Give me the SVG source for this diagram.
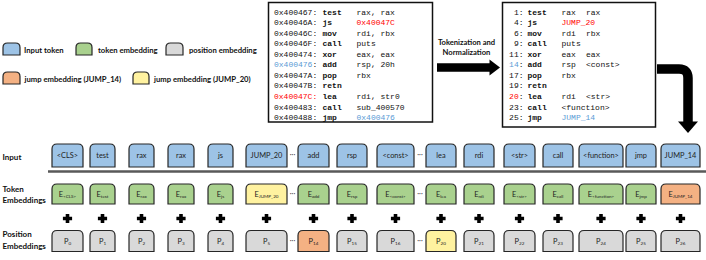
<svg xmlns="http://www.w3.org/2000/svg" xmlns:xlink="http://www.w3.org/1999/xlink" width="706" height="260" viewBox="0 0 706 260">
<style>
.bx{stroke:#262626;stroke-width:1.2}
.in{fill:#9DC3E6}.te{fill:#A9D18E}.pe{fill:#D9D9D9}.j14{fill:#F4B183}.j20{fill:#FFF2A0}
.lb{font-family:Lato,"Liberation Sans",sans-serif;font-size:7.4px;fill:#222;text-anchor:middle}
.sub{font-size:4.6px}
.rl{font-family:Lato,"Liberation Sans",sans-serif;font-size:8px;font-weight:bold;fill:#111}
.lg{font-family:Lato,"Liberation Sans",sans-serif;font-size:7.7px;font-weight:bold;fill:#111}
.tk{font-family:Lato,"Liberation Sans",sans-serif;font-size:7.6px;font-weight:bold;fill:#111;text-anchor:middle}
.code{font-family:"Liberation Mono","DejaVu Sans Mono",monospace;font-size:8px;fill:#111}
.mn{font-weight:bold}
.red{fill:#FF0000}.blu{fill:#5B9BD5}
.dots{font-family:Lato,"Liberation Sans",sans-serif;font-size:7px;fill:#444;text-anchor:middle}
</style>
<defs>
<path id="plus" d="M-1.8,-4.6H1.8V-1.8H4.6V1.8H1.8V4.6H-1.8V1.8H-4.6V-1.8H-1.8Z" fill="#000"/>
</defs>
<rect width="706" height="260" fill="#fff"/>

<!-- legend -->
<g id="legend">
<path class="bx in" d="M3,55V47.5Q3,43 7.5,43H15.5Q20,43 20,47.5V55Z"/>
<text class="lg" x="24" y="52.5">Input token</text>
<path class="bx te" d="M76,55V47.5Q76,43 80.5,43H87.5Q92,43 92,47.5V55Z"/>
<text class="lg" x="98" y="52.5">token embedding</text>
<path class="bx pe" d="M166,55V47.5Q166,43 170.5,43H178.5Q183,43 183,47.5V55Z"/>
<text class="lg" x="189" y="52.5">position embedding</text>
<path class="bx j14" d="M3,84V76.5Q3,72 7.5,72H15.5Q20,72 20,76.5V84Z"/>
<text class="lg" x="24.5" y="81.5">jump embedding (JUMP_14)</text>
<path class="bx j20" d="M133,84V76.5Q133,72 137.5,72H144.5Q149,72 149,76.5V84Z"/>
<text class="lg" x="154" y="81.5">jump embedding (JUMP_20)</text>
</g>

<!-- assembly box -->
<g id="asm">
<rect x="268.5" y="2.5" width="164" height="119.5" fill="#fff" stroke="#111" stroke-width="1.5"/>
<text class="code" y="14.5"><tspan x="274">0x400467:</tspan><tspan class="mn" x="322.5">test</tspan><tspan x="356.5">rax, rax</tspan></text>
<text class="code" y="25.1"><tspan x="274">0x40046A:</tspan><tspan class="mn" x="322.5">js</tspan><tspan class="red" x="356.5">0x40047C</tspan></text>
<text class="code" y="35.6"><tspan x="274">0x40046C:</tspan><tspan class="mn" x="322.5">mov</tspan><tspan x="356.5">rdi, rbx</tspan></text>
<text class="code" y="46.2"><tspan x="274">0x40046F:</tspan><tspan class="mn" x="322.5">call</tspan><tspan x="356.5">puts</tspan></text>
<text class="code" y="56.7"><tspan x="274">0x400474:</tspan><tspan class="mn" x="322.5">xor</tspan><tspan x="356.5">eax, eax</tspan></text>
<text class="code" y="67.3"><tspan class="blu" x="274">0x400476</tspan><tspan>:</tspan><tspan class="mn" x="322.5">add</tspan><tspan x="356.5">rsp, 20h</tspan></text>
<text class="code" y="77.9"><tspan x="274">0x40047A:</tspan><tspan class="mn" x="322.5">pop</tspan><tspan x="356.5">rbx</tspan></text>
<text class="code" y="88.4"><tspan x="274">0x40047B:</tspan><tspan class="mn" x="322.5">retn</tspan></text>
<text class="code" y="99"><tspan class="red" x="274">0x40047C:</tspan><tspan class="mn" x="322.5">lea</tspan><tspan x="356.5">rdi, str0</tspan></text>
<text class="code" y="109.5"><tspan x="274">0x400483:</tspan><tspan class="mn" x="322.5">call</tspan><tspan x="356.5">sub_400570</tspan></text>
<text class="code" y="120.1"><tspan x="274">0x400488:</tspan><tspan class="mn" x="322.5">jmp</tspan><tspan class="blu" x="356.5">0x400476</tspan></text>
</g>

<!-- normalized box -->
<g id="norm">
<rect x="502.5" y="2.5" width="153" height="124.5" fill="#fff" stroke="#111" stroke-width="1.5"/>
<g class="code">
<text y="14.5"><tspan x="523.5" text-anchor="end">1:</tspan><tspan class="mn" x="527.5">test</tspan><tspan x="561.5">rax</tspan><tspan x="586">rax</tspan></text>
<text y="25.1"><tspan x="523.5" text-anchor="end">4:</tspan><tspan class="mn" x="527.5">js</tspan><tspan class="red" x="561.5">JUMP_20</tspan></text>
<text y="35.6"><tspan x="523.5" text-anchor="end">6:</tspan><tspan class="mn" x="527.5">mov</tspan><tspan x="561.5">rdi</tspan><tspan x="586">rbx</tspan></text>
<text y="46.2"><tspan x="523.5" text-anchor="end">9:</tspan><tspan class="mn" x="527.5">call</tspan><tspan x="561.5">puts</tspan></text>
<text y="56.7"><tspan x="523.5" text-anchor="end">11:</tspan><tspan class="mn" x="527.5">xor</tspan><tspan x="561.5">eax</tspan><tspan x="586">eax</tspan></text>
<text y="67.3"><tspan class="blu" x="518.7" text-anchor="end">14</tspan><tspan x="523.5" text-anchor="end">:</tspan><tspan class="mn" x="527.5">add</tspan><tspan x="561.5">rsp</tspan><tspan x="586">&lt;const&gt;</tspan></text>
<text y="77.9"><tspan x="523.5" text-anchor="end">17:</tspan><tspan class="mn" x="527.5">pop</tspan><tspan x="561.5">rbx</tspan></text>
<text y="88.4"><tspan x="523.5" text-anchor="end">19:</tspan><tspan class="mn" x="527.5">retn</tspan></text>
<text y="99"><tspan class="red" x="518.7" text-anchor="end">20</tspan><tspan x="523.5" text-anchor="end">:</tspan><tspan class="mn" x="527.5">lea</tspan><tspan x="561.5">rdi</tspan><tspan x="586">&lt;str&gt;</tspan></text>
<text y="109.5"><tspan x="523.5" text-anchor="end">23:</tspan><tspan class="mn" x="527.5">call</tspan><tspan x="561.5">&lt;function&gt;</tspan></text>
<text y="120.1"><tspan x="523.5" text-anchor="end">25:</tspan><tspan class="mn" x="527.5">jmp</tspan><tspan class="blu" x="561.5">JUMP_14</tspan></text>
</g>
</g>

<!-- connectors -->
<g id="connectors">
<text class="tk" x="466.5" y="44.5">Tokenization and</text>
<text class="tk" x="466.5" y="54.8">Normalization</text>
<path d="M437,63.2H489.5V59.5L500,67.5L489.5,75.5V71.8H437Z" fill="#000"/>
<path d="M657,69H679Q688,69 688,78V122" fill="none" stroke="#000" stroke-width="9.5"/>
<path d="M678,121.5H698L688,133Z" fill="#000"/>
<line x1="48" y1="171.5" x2="706" y2="171.5" stroke="#595959" stroke-width="2.5"/>
</g>

<!-- row labels -->
<g id="rowlabels">
<text class="rl" x="2.5" y="160">Input</text>
<text class="rl" x="2.5" y="191.5">Token</text>
<text class="rl" x="2.5" y="203">Embeddings</text>
<text class="rl" x="2.5" y="237">Position</text>
<text class="rl" x="2.5" y="248.5">Embeddings</text>
</g>

<!-- input row -->
<g id="input-row">
<g id="in1"><path class="bx in" d="M52,167V149Q52,144 57,144H78Q83,144 83,149V167Z"/><text class="lb" x="67.5" y="158">&lt;CLS&gt;</text></g>
<g id="in2"><path class="bx in" d="M90,167V149Q90,144 95,144H110Q115,144 115,149V167Z"/><text class="lb" x="102.5" y="158">test</text></g>
<g id="in3"><path class="bx in" d="M129,167V149Q129,144 134,144H149Q154,144 154,149V167Z"/><text class="lb" x="141.5" y="158">rax</text></g>
<g id="in4"><path class="bx in" d="M168,167V149Q168,144 173,144H189Q194,144 194,149V167Z"/><text class="lb" x="181" y="158">rax</text></g>
<g id="in5"><path class="bx in" d="M208,167V149Q208,144 213,144H228Q233,144 233,149V167Z"/><text class="lb" x="220.5" y="158">js</text></g>
<g id="in6"><path class="bx in" d="M246,167V149Q246,144 251,144H282Q287,144 287,149V167Z"/><text class="lb" x="266.5" y="158">JUMP_20</text></g>
<g id="in7"><path class="bx in" d="M298,167V149Q298,144 303,144H324Q329,144 329,149V167Z"/><text class="lb" x="313.5" y="158">add</text></g>
<g id="in8"><path class="bx in" d="M337,167V149Q337,144 342,144H362Q367,144 367,149V167Z"/><text class="lb" x="352" y="158">rsp</text></g>
<g id="in9"><path class="bx in" d="M377,167V149Q377,144 382,144H409Q414,144 414,149V167Z"/><text class="lb" x="395.5" y="158">&lt;const&gt;</text></g>
<g id="in10"><path class="bx in" d="M426,167V149Q426,144 431,144H451Q456,144 456,149V167Z"/><text class="lb" x="441" y="158">lea</text></g>
<g id="in11"><path class="bx in" d="M464,167V149Q464,144 469,144H489Q494,144 494,149V167Z"/><text class="lb" x="479" y="158">rdi</text></g>
<g id="in12"><path class="bx in" d="M504,167V149Q504,144 509,144H530Q535,144 535,149V167Z"/><text class="lb" x="519.5" y="158">&lt;str&gt;</text></g>
<g id="in13"><path class="bx in" d="M543,167V149Q543,144 548,144H568Q573,144 573,149V167Z"/><text class="lb" x="558" y="158">call</text></g>
<g id="in14"><path class="bx in" d="M579,167V149Q579,144 584,144H618Q623,144 623,149V167Z"/><text class="lb" x="601" y="158">&lt;function&gt;</text></g>
<g id="in15"><path class="bx in" d="M626,167V149Q626,144 631,144H651Q656,144 656,149V167Z"/><text class="lb" x="641" y="158">jmp</text></g>
<g id="in16"><path class="bx in" d="M661,167V149Q661,144 666,144H695Q700,144 700,149V167Z"/><text class="lb" x="680.5" y="158">JUMP_14</text></g>
<text class="dots" x="292.5" y="157">···</text>
<text class="dots" x="420" y="157">···</text>
</g>

<!-- token embedding row -->
<g id="tok-row">
<g id="te1"><path class="bx te" d="M52,204V189Q52,184 57,184H78Q83,184 83,189V204Z"/><text class="lb" x="67.5" y="196.5">E<tspan class="sub" dy="1.2">&lt;CLS&gt;</tspan></text></g>
<g id="te2"><path class="bx te" d="M90,204V189Q90,184 95,184H110Q115,184 115,189V204Z"/><text class="lb" x="102.5" y="196.5">E<tspan class="sub" dy="1.2">test</tspan></text></g>
<g id="te3"><path class="bx te" d="M129,204V189Q129,184 134,184H149Q154,184 154,189V204Z"/><text class="lb" x="141.5" y="196.5">E<tspan class="sub" dy="1.2">rax</tspan></text></g>
<g id="te4"><path class="bx te" d="M168,204V189Q168,184 173,184H189Q194,184 194,189V204Z"/><text class="lb" x="181" y="196.5">E<tspan class="sub" dy="1.2">rax</tspan></text></g>
<g id="te5"><path class="bx te" d="M208,204V189Q208,184 213,184H228Q233,184 233,189V204Z"/><text class="lb" x="220.5" y="196.5">E<tspan class="sub" dy="1.2">js</tspan></text></g>
<g id="te6"><path class="bx j20" d="M246,204V189Q246,184 251,184H282Q287,184 287,189V204Z"/><text class="lb" x="266.5" y="196.5">E<tspan class="sub" dy="1.2">JUMP_20</tspan></text></g>
<g id="te7"><path class="bx te" d="M298,204V189Q298,184 303,184H324Q329,184 329,189V204Z"/><text class="lb" x="313.5" y="196.5">E<tspan class="sub" dy="1.2">add</tspan></text></g>
<g id="te8"><path class="bx te" d="M337,204V189Q337,184 342,184H362Q367,184 367,189V204Z"/><text class="lb" x="352" y="196.5">E<tspan class="sub" dy="1.2">rsp</tspan></text></g>
<g id="te9"><path class="bx te" d="M377,204V189Q377,184 382,184H409Q414,184 414,189V204Z"/><text class="lb" x="395.5" y="196.5">E<tspan class="sub" dy="1.2">&lt;const&gt;</tspan></text></g>
<g id="te10"><path class="bx te" d="M426,204V189Q426,184 431,184H451Q456,184 456,189V204Z"/><text class="lb" x="441" y="196.5">E<tspan class="sub" dy="1.2">lea</tspan></text></g>
<g id="te11"><path class="bx te" d="M464,204V189Q464,184 469,184H489Q494,184 494,189V204Z"/><text class="lb" x="479" y="196.5">E<tspan class="sub" dy="1.2">rdi</tspan></text></g>
<g id="te12"><path class="bx te" d="M504,204V189Q504,184 509,184H530Q535,184 535,189V204Z"/><text class="lb" x="519.5" y="196.5">E<tspan class="sub" dy="1.2">&lt;str&gt;</tspan></text></g>
<g id="te13"><path class="bx te" d="M543,204V189Q543,184 548,184H568Q573,184 573,189V204Z"/><text class="lb" x="558" y="196.5">E<tspan class="sub" dy="1.2">call</tspan></text></g>
<g id="te14"><path class="bx te" d="M579,204V189Q579,184 584,184H618Q623,184 623,189V204Z"/><text class="lb" x="601" y="196.5">E<tspan class="sub" dy="1.2">&lt;function&gt;</tspan></text></g>
<g id="te15"><path class="bx te" d="M626,204V189Q626,184 631,184H651Q656,184 656,189V204Z"/><text class="lb" x="641" y="196.5">E<tspan class="sub" dy="1.2">jmp</tspan></text></g>
<g id="te16"><path class="bx j14" d="M661,204V189Q661,184 666,184H695Q700,184 700,189V204Z"/><text class="lb" x="680.5" y="196.5">E<tspan class="sub" dy="1.2">JUMP_14</tspan></text></g>
<text class="dots" x="292.5" y="195.5">···</text>
<text class="dots" x="420" y="195.5">···</text>
</g>

<!-- plus signs -->
<g id="plus-row">
<use xlink:href="#plus" x="67.5" y="218.5"/><use xlink:href="#plus" x="102.5" y="218.5"/><use xlink:href="#plus" x="141.5" y="218.5"/><use xlink:href="#plus" x="181" y="218.5"/>
<use xlink:href="#plus" x="220.5" y="218.5"/><use xlink:href="#plus" x="266.5" y="218.5"/><use xlink:href="#plus" x="313.5" y="218.5"/><use xlink:href="#plus" x="352" y="218.5"/>
<use xlink:href="#plus" x="395.5" y="218.5"/><use xlink:href="#plus" x="441" y="218.5"/><use xlink:href="#plus" x="479" y="218.5"/><use xlink:href="#plus" x="519.5" y="218.5"/>
<use xlink:href="#plus" x="558" y="218.5"/><use xlink:href="#plus" x="601" y="218.5"/><use xlink:href="#plus" x="641" y="218.5"/><use xlink:href="#plus" x="680.5" y="218.5"/>
</g>

<!-- position embedding row -->
<g id="pos-row">
<g id="pe1"><path class="bx pe" d="M52,251.5V235.5Q52,230.5 57,230.5H78Q83,230.5 83,235.5V251.5Z"/><text class="lb" x="67.5" y="243.5">P<tspan class="sub" dy="1.2">0</tspan></text></g>
<g id="pe2"><path class="bx pe" d="M90,251.5V235.5Q90,230.5 95,230.5H110Q115,230.5 115,235.5V251.5Z"/><text class="lb" x="102.5" y="243.5">P<tspan class="sub" dy="1.2">1</tspan></text></g>
<g id="pe3"><path class="bx pe" d="M129,251.5V235.5Q129,230.5 134,230.5H149Q154,230.5 154,235.5V251.5Z"/><text class="lb" x="141.5" y="243.5">P<tspan class="sub" dy="1.2">2</tspan></text></g>
<g id="pe4"><path class="bx pe" d="M168,251.5V235.5Q168,230.5 173,230.5H189Q194,230.5 194,235.5V251.5Z"/><text class="lb" x="181" y="243.5">P<tspan class="sub" dy="1.2">3</tspan></text></g>
<g id="pe5"><path class="bx pe" d="M208,251.5V235.5Q208,230.5 213,230.5H228Q233,230.5 233,235.5V251.5Z"/><text class="lb" x="220.5" y="243.5">P<tspan class="sub" dy="1.2">4</tspan></text></g>
<g id="pe6"><path class="bx pe" d="M246,251.5V235.5Q246,230.5 251,230.5H282Q287,230.5 287,235.5V251.5Z"/><text class="lb" x="266.5" y="243.5">P<tspan class="sub" dy="1.2">5</tspan></text></g>
<g id="pe7"><path class="bx j14" d="M298,251.5V235.5Q298,230.5 303,230.5H324Q329,230.5 329,235.5V251.5Z"/><text class="lb" x="313.5" y="243.5">P<tspan class="sub" dy="1.2">14</tspan></text></g>
<g id="pe8"><path class="bx pe" d="M337,251.5V235.5Q337,230.5 342,230.5H362Q367,230.5 367,235.5V251.5Z"/><text class="lb" x="352" y="243.5">P<tspan class="sub" dy="1.2">15</tspan></text></g>
<g id="pe9"><path class="bx pe" d="M377,251.5V235.5Q377,230.5 382,230.5H409Q414,230.5 414,235.5V251.5Z"/><text class="lb" x="395.5" y="243.5">P<tspan class="sub" dy="1.2">16</tspan></text></g>
<g id="pe10"><path class="bx j20" d="M426,251.5V235.5Q426,230.5 431,230.5H451Q456,230.5 456,235.5V251.5Z"/><text class="lb" x="441" y="243.5">P<tspan class="sub" dy="1.2">20</tspan></text></g>
<g id="pe11"><path class="bx pe" d="M464,251.5V235.5Q464,230.5 469,230.5H489Q494,230.5 494,235.5V251.5Z"/><text class="lb" x="479" y="243.5">P<tspan class="sub" dy="1.2">21</tspan></text></g>
<g id="pe12"><path class="bx pe" d="M504,251.5V235.5Q504,230.5 509,230.5H530Q535,230.5 535,235.5V251.5Z"/><text class="lb" x="519.5" y="243.5">P<tspan class="sub" dy="1.2">22</tspan></text></g>
<g id="pe13"><path class="bx pe" d="M543,251.5V235.5Q543,230.5 548,230.5H568Q573,230.5 573,235.5V251.5Z"/><text class="lb" x="558" y="243.5">P<tspan class="sub" dy="1.2">23</tspan></text></g>
<g id="pe14"><path class="bx pe" d="M579,251.5V235.5Q579,230.5 584,230.5H618Q623,230.5 623,235.5V251.5Z"/><text class="lb" x="601" y="243.5">P<tspan class="sub" dy="1.2">24</tspan></text></g>
<g id="pe15"><path class="bx pe" d="M626,251.5V235.5Q626,230.5 631,230.5H651Q656,230.5 656,235.5V251.5Z"/><text class="lb" x="641" y="243.5">P<tspan class="sub" dy="1.2">25</tspan></text></g>
<g id="pe16"><path class="bx pe" d="M661,251.5V235.5Q661,230.5 666,230.5H695Q700,230.5 700,235.5V251.5Z"/><text class="lb" x="680.5" y="243.5">P<tspan class="sub" dy="1.2">26</tspan></text></g>
<text class="dots" x="292.5" y="242.5">···</text>
<text class="dots" x="420" y="242.5">···</text>
</g>
</svg>
